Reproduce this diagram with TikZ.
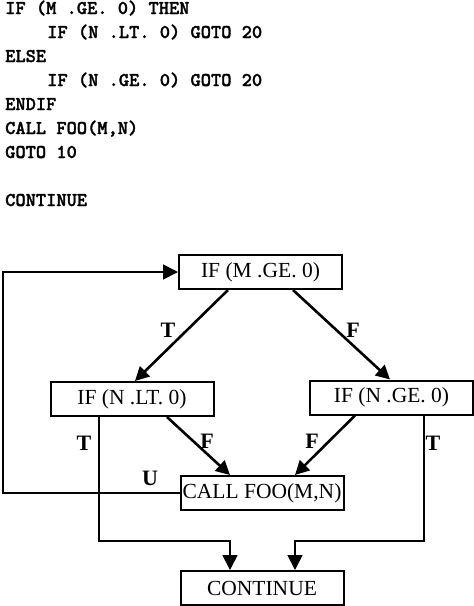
\documentclass[tikz,border=0pt]{standalone}
\usepackage{fontspec}
\setmainfont{Liberation Serif}
\newfontfamily\codefont{lmmonolt10-bold}[Extension=.otf, FakeBold=1.5]
\usetikzlibrary{arrows.meta}

\tikzset{
  codeline/.style={anchor=base west, inner sep=0pt, font=\fontsize{19.5}{24}\selectfont\codefont},
  stmt/.style={draw, line width=2pt, minimum width=163pt, minimum height=34pt, inner sep=0pt, font=\fontsize{21.5}{24}\selectfont},
  branch/.style={line width=2.6pt, -{Triangle[length=14pt,width=14pt]}},
  flow/.style={line width=1.8pt, -{Triangle[length=15pt,width=15pt]}},
  lbl/.style={inner sep=0pt, font=\fontsize{22}{24}\selectfont\bfseries},
}

\begin{document}
\begin{tikzpicture}[x=1pt, y=-1pt]
  \useasboundingbox (0,0) rectangle (474,606);

  % Fortran source
  \foreach \ypos/\xpos/\txt [count=\i] in {14/5/{IF (M .GE. 0) THEN},
      38/47/{IF (N .LT. 0) GOTO 20}, 62/5/{ELSE},
      86/47/{IF (N .GE. 0) GOTO 20}, 110/5/{ENDIF},
      134/5/{CALL FOO(M,N)}, 158/5/{GOTO 10}, 206/5/{CONTINUE}}
    \node[codeline] (code\i) at (\xpos,\ypos) {\txt};

  % Flow graph blocks
  \node[stmt] (ifm)  at (260.5,272) {IF (M .GE. 0)};
  \node[stmt] (iflt) at (132,399)   {IF (N .LT. 0)};
  \node[stmt] (ifge) at (391.5,397.5) {IF (N .GE. 0)};
  \node[stmt] (call) at (262,493)   {CALL FOO(M,N)};
  \node[stmt] (cont) at (262,588)   {CONTINUE};

  % Branches
  \draw[branch] ([xshift=-32.5pt]ifm.south) -- ([xshift=3pt]iflt.north);
  \draw[branch] ([xshift=32.5pt]ifm.south) -- ([xshift=-1.5pt]ifge.north);
  \draw[branch] ([xshift=35pt]iflt.south) -- ([xshift=-32pt]call.north);
  \draw[branch] ([xshift=-36.5pt]ifge.south) -- ([xshift=33pt]call.north);

  % Exits to CONTINUE
  \draw[flow] ([xshift=-33pt]iflt.south) |- ([xshift=-32pt,yshift=29pt]cont.north)
    -- ([xshift=-32pt]cont.north);
  \draw[flow] ([xshift=32.5pt]ifge.south) |- ([xshift=33pt,yshift=29pt]cont.north)
    -- ([xshift=33pt]cont.north);

  % Loop back
  \coordinate (loop) at (3,494);
  \draw[flow] (call.west) -- (call.west -| loop) |- (ifm.west);

  % Edge labels
  \node[lbl] (tm)  at (168,330) {T};
  \node[lbl] (fm)  at (353,330) {F};
  \node[lbl] (flt) at (207,441) {F};
  \node[lbl] (fge) at (312,441) {F};
  \node[lbl] (tlt) at (84,443)  {T};
  \node[lbl] (tge) at (433,443) {T};
  \node[lbl] (u)   at (150,478) {U};
\end{tikzpicture}
\end{document}
